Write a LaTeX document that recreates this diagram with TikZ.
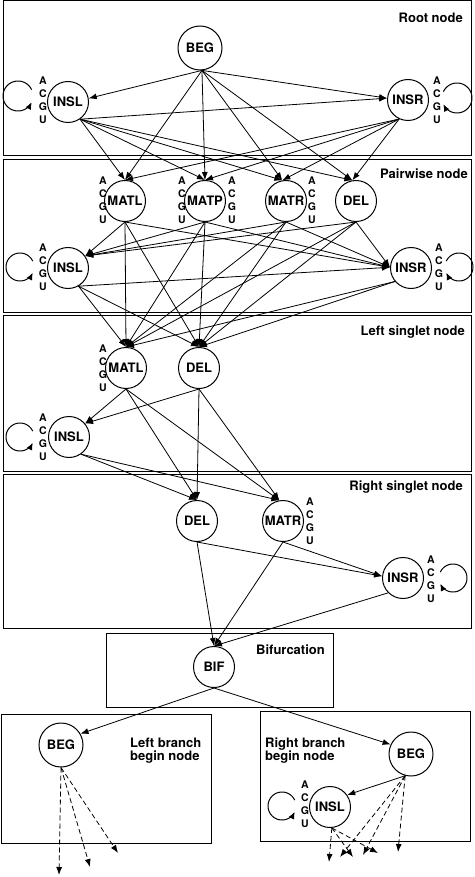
\documentclass[tikz,border=0pt]{standalone}
\usepackage{fontspec}
\setmainfont{TeX Gyre Heros}
\usetikzlibrary{arrows.meta}
\newcommand\myloopL[3]{\draw[lp] plot[smooth,domain=25:335,samples=40,variable=\t] ({#1+#3*cos(\t)},{#2-#3*sin(\t)});}
\newcommand\myloopR[3]{\draw[lp] plot[smooth,domain=25:335,samples=40,variable=\t] ({#1-#3*cos(\t)},{#2-#3*sin(\t)});}
\begin{document}
\begin{tikzpicture}[x=1pt,y=-1pt,
  st/.style={draw, circle, minimum size=41pt, inner sep=0pt, line width=1pt, font=\bfseries\fontsize{13}{13}\selectfont},
  begst/.style={st, minimum size=44pt},
  tr/.style={line width=0.8pt, -{Latex[length=8pt,width=6pt]}},
  dtr/.style={tr, dash pattern=on 5pt off 3pt},
  lp/.style={line width=1pt, -{Latex[length=7pt,width=6pt]}},
  box/.style={draw, line width=1pt},
  lbl/.style={font=\bfseries\fontsize{13}{13}\selectfont, inner sep=0pt},
  acgu/.style={font=\bfseries\fontsize{10.5}{13}\selectfont, align=center, inner sep=0pt}
]
\useasboundingbox (0,0) rectangle (474,877);

% boxes
\draw[box] (3,1) rectangle (471,156);
\draw[box] (3,160) rectangle (471,312);
\draw[box] (3,315) rectangle (471,471);
\draw[box] (3,474) rectangle (471,628);
\draw[box] (106,633) rectangle (333,707);
\draw[box] (1,714) rectangle (211,843);
\draw[box] (260,711) rectangle (470,841);

% labels
\node[lbl, anchor=east] (tRoot) at (463,17.5) {Root node};
\node[lbl, anchor=east] (tPair) at (468,174) {Pairwise node};
\node[lbl, anchor=east] (tLS) at (465,332) {Left singlet node};
\node[lbl, anchor=east] (tRS) at (463,487) {Right singlet node};
\node[lbl, anchor=east] (tBif) at (325,650) {Bifurcation};
\node[lbl, anchor=west, align=left] (tLB) at (130,751) {Left branch\\begin node};
\node[lbl, anchor=west, align=left] (tRB) at (265,751) {Right branch\\begin node};

% states
\node[begst] (rBEG) at (200,48) {BEG};
\node[st] (rINSL) at (68,102) {INSL};
\node[st] (rINSR) at (408,100) {INSR};
\node[st] (pMATL) at (125,201) {MATL};
\node[st] (pMATP) at (205,201) {MATP};
\node[st] (pMATR) at (286,201) {MATR};
\node[st] (pDEL) at (356,201) {DEL};
\node[st] (pINSL) at (68,268) {INSL};
\node[st] (pINSR) at (411,268) {INSR};
\node[st] (lMATL) at (126,368) {MATL};
\node[st] (lDEL) at (199,368) {DEL};
\node[st] (lINSL) at (69,437) {INSL};
\node[st] (sDEL) at (197,521) {DEL};
\node[st] (sMATR) at (283,521) {MATR};
\node[st] (sINSR) at (403,578) {INSR};
\node[st] (BIF) at (214,667) {BIF};
\node[begst] (lBEG) at (61,745) {BEG};
\node[begst] (RBEG) at (411,754) {BEG};
\node[st] (bINSL) at (330,807) {INSL};

% emission letters
\node[acgu] (e1) at (43,100) {A\\C\\G\\U};
\node[acgu] (e2) at (437,100) {A\\C\\G\\U};
\node[acgu] (e3) at (103,200) {A\\C\\G\\U};
\node[acgu] (e4) at (182,200) {A\\C\\G\\U};
\node[acgu] (e5) at (232,200) {A\\C\\G\\U};
\node[acgu] (e6) at (312,200) {A\\C\\G\\U};
\node[acgu] (e7) at (43,267) {A\\C\\G\\U};
\node[acgu] (e8) at (439,267) {A\\C\\G\\U};
\node[acgu] (e9) at (103,368) {A\\C\\G\\U};
\node[acgu] (e10) at (43,437) {A\\C\\G\\U};
\node[acgu] (e11) at (310,521) {A\\C\\G\\U};
\node[acgu] (e12) at (431,579) {A\\C\\G\\U};
\node[acgu] (e13) at (305,804) {A\\C\\G\\U};

% self loops
\myloopL{18}{96}{15}
\myloopR{457}{98}{15}
\myloopL{20}{267}{14}
\myloopR{459}{267}{14}
\myloopL{20}{437}{14}
\myloopR{453}{578}{14}
\myloopL{282}{806}{14}

% root node
\draw[tr] (rBEG.-85) -- (rINSL.10);
\draw[tr] (rBEG.-85) -- (rINSR.175);
\draw[tr] (rINSL.-55) -- (rINSR.175);
\foreach \s/\a in {rBEG/-85, rINSL/-55, rINSR/-115}
  \foreach \t/\b in {pMATL/90, pMATP/90, pMATR/100, pDEL/100}
    \draw[tr] (\s.\a) -- (\t.\b);

% pairwise node
\foreach \s in {pMATL,pMATP,pMATR,pDEL} {
  \draw[tr] (\s.south) -- (pINSL.35);
  \draw[tr] (\s.south) -- (pINSR.178);
}
\draw[tr] (pINSL.-60) -- (pINSR.178);
\foreach \s/\a in {pMATL/-90,pMATP/-90,pMATR/-90,pDEL/-90,pINSL/-60,pINSR/-140}
  \foreach \t in {lMATL,lDEL}
    \draw[tr] (\s.\a) -- (\t.north);

% left singlet node
\foreach \s in {lMATL,lDEL}
  \draw[tr] (\s.south) -- (lINSL.40);
\foreach \s/\a in {lMATL/-90,lDEL/-90,lINSL/-55}
  \foreach \t/\b in {sDEL/90,sMATR/100}
    \draw[tr] (\s.\a) -- (\t.\b);

% right singlet node
\foreach \s in {sDEL,sMATR}
  \draw[tr] (\s.south) -- (sINSR.175);
\foreach \s/\a in {sDEL/-90,sMATR/-90,sINSR/-135}
  \draw[tr] (\s.\a) -- (BIF.north);

% bifurcation
\draw[tr] (BIF.south) -- (lBEG.30);
\draw[tr] (BIF.south) -- (RBEG.155);

% branches
\draw[tr] (RBEG.-105) -- (bINSL.35);
\coordinate (lb1) at (59,875);
\coordinate (lb2) at (90,867);
\coordinate (lb3) at (118,853);
\coordinate (rb1) at (340,857);
\coordinate (rb2) at (363,855);
\coordinate (rb3) at (398,852);
\coordinate (bi1) at (329,862);
\coordinate (bi2) at (353,857);
\coordinate (bi3) at (378,853);
\foreach \t in {lb1,lb2,lb3} \draw[dtr] (lBEG.south) -- (\t);
\foreach \t in {rb1,rb2,rb3} \draw[dtr] (RBEG.-105) -- (\t);
\foreach \t in {bi1,bi2,bi3} \draw[dtr] (bINSL.-85) -- (\t);
\end{tikzpicture}
\end{document}
